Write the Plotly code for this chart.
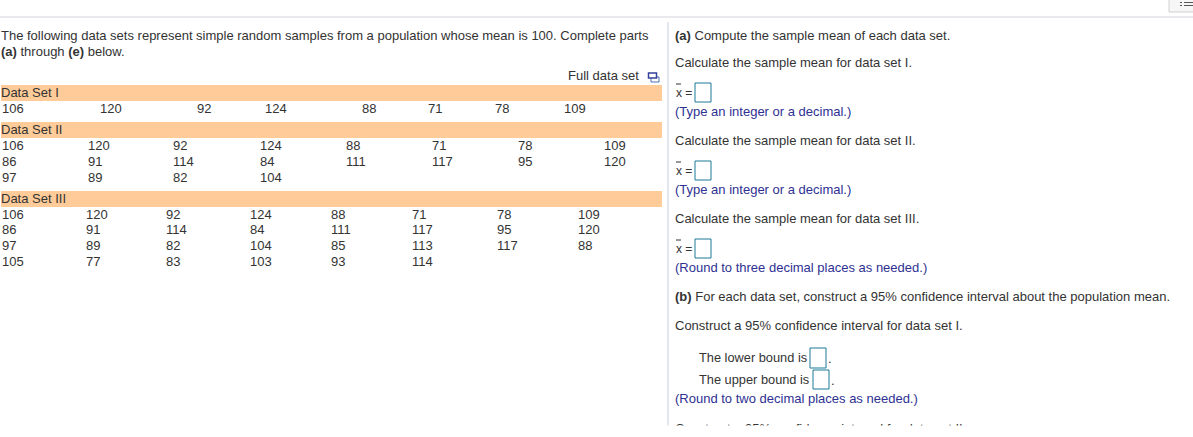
import plotly.graph_objects as go

W = 1193
H = 437
TXT = "#333333"
BLUE = "#2e3192"
TEAL = "#1b7a9a"
BAND = "#ffcc99"
FONT = "Liberation Sans, Arial, sans-serif"
FS = 13

# table values, one list per row
set1_rows = [["106", "120", "92", "124", "88", "71", "78", "109"]]
set2_rows = [
    ["106", "120", "92", "124", "88", "71", "78", "109"],
    ["86", "91", "114", "84", "111", "117", "95", "120"],
    ["97", "89", "82", "104"],
]
set3_rows = [
    ["106", "120", "92", "124", "88", "71", "78", "109"],
    ["86", "91", "114", "84", "111", "117", "95", "120"],
    ["97", "89", "82", "104", "85", "113", "117", "88"],
    ["105", "77", "83", "103", "93", "114"],
]
band_labels = ["Data Set I", "Data Set II", "Data Set III"]

# column left edges and row centres
set1_cols = [2, 100, 197, 265, 362, 428, 495, 564]
set2_cols = [2, 88, 173, 260, 346, 432, 518, 604]
set3_cols = [2, 86, 166, 250, 331, 412, 497, 578]
set1_y = [110]
set2_y = [147, 163, 179]
set3_y = [216, 231, 247, 263]
band_y = [(85, 101), (122, 138), (191, 207)]

# prose: text, x, y, colour
prose = [
    ("The following data sets represent simple random samples from a population whose mean is 100. Complete parts", 0, 35, TXT),
    ("<b>(a)</b> through <b>(e)</b> below.", 0, 51, TXT),
    ("Full data set", 567, 75, TXT),
    ("<b>(a)</b> Compute the sample mean of each data set.", 674, 35, TXT),
    ("Calculate the sample mean for data set I.", 674, 62, TXT),
    ("(Type an integer or a decimal.)", 674, 111, BLUE),
    ("Calculate the sample mean for data set II.", 674, 140, TXT),
    ("(Type an integer or a decimal.)", 674, 189, BLUE),
    ("Calculate the sample mean for data set III.", 674, 218, TXT),
    ("(Round to three decimal places as needed.)", 674, 267, BLUE),
    ("<b>(b)</b> For each data set, construct a 95% confidence interval about the population mean.", 674, 296, TXT),
    ("Construct a 95% confidence interval for data set I.", 674, 325, TXT),
    ("The lower bound is", 698, 357, TXT),
    (".", 827, 358, TXT),
    ("The upper bound is", 698, 379, TXT),
    (".", 830, 380, TXT),
    ("(Round to two decimal places as needed.)", 674, 398, BLUE),
    ("Construct a 95% confidence interval for data set II.", 674, 428, TXT),
]

# xbar equations (x position, y position of the answer row)
xbar_rows = [(674, 93), (674, 171), (674, 249)]
answer_boxes = [(695, 83, 711, 102), (695, 161, 711, 180), (695, 239, 711, 258),
                (810, 348, 826, 368), (813, 370, 829, 389)]

fig = go.Figure()

# table numbers
for rows, cols, ys in [(set1_rows, set1_cols, set1_y), (set2_rows, set2_cols, set2_y), (set3_rows, set3_cols, set3_y)]:
    for row, y in zip(rows, ys):
        fig.add_trace(go.Scatter(x=cols[:len(row)], y=[y] * len(row), text=row, mode="text",
                                 textposition="middle right", hoverinfo="skip",
                                 textfont=dict(family=FONT, size=FS, color=TXT)))

# bands
for (y0, y1), label in zip(band_y, band_labels):
    fig.add_shape(type="rect", x0=1, x1=662, y0=y0, y1=y1, fillcolor=BAND, line_width=0, layer="below")
    fig.add_annotation(x=0, y=(y0 + y1) / 2 - 0.5, xshift=-1, text=label, showarrow=False, xanchor="left",
                       yanchor="middle", font=dict(family=FONT, size=FS, color=TXT))

for text, x, y, col in prose:
    size = 12.8 if text.startswith("The ") and "bound" in text else FS
    fig.add_annotation(x=x, y=y, xshift=-1, text=text, showarrow=False, xanchor="left", yanchor="middle",
                       font=dict(family=FONT, size=size, color=col))

for x, y in xbar_rows:
    fig.add_annotation(x=x, y=y, text="x =", showarrow=False, xanchor="left", yanchor="middle",
                       font=dict(family=FONT, size=FS - 1, color=TXT))
    fig.add_shape(type="line", x0=x + 2, x1=x + 7, y0=y - 9, y1=y - 9, line=dict(color=TXT, width=1))

for x0, y0, x1, y1 in answer_boxes:
    fig.add_shape(type="rect", x0=x0, x1=x1, y0=y0, y1=y1, line=dict(color=TEAL, width=1), fillcolor="white")

# page furniture
fig.add_shape(type="line", x0=0, x1=W, y0=17, y1=17, line=dict(color="#d4d4dc", width=1))
fig.add_shape(type="line", x0=668, x1=668, y0=22, y1=426, line=dict(color="#c8cce0", width=1))
fig.add_shape(type="rect", x0=1169, x1=1198, y0=-4, y1=12, line=dict(color="#d0d0d0", width=1), fillcolor="#f6f6f6")
for y0 in [2, 5]:
    fig.add_shape(type="rect", x0=1180, x1=1182, y0=y0, y1=y0 + 1, line_width=0, fillcolor="#555555")
    fig.add_shape(type="rect", x0=1184, x1=1193, y0=y0, y1=y0 + 1, line_width=0, fillcolor="#555555")
# full data set icon
fig.add_shape(type="rect", x0=651, x1=659, y0=77, y1=82, line=dict(color="#4a6fb5", width=1), fillcolor="white")
fig.add_shape(type="rect", x0=648.5, x1=656.5, y0=73, y1=78, line=dict(color="#34409a", width=1.5), fillcolor="white")

# the screenshot is cut off under the last line
fig.add_annotation(x=0, y=425, text=" ", showarrow=False, xanchor="left", yanchor="top", width=W, height=14,
                   bgcolor="white", borderpad=0, font=dict(size=10))

fig.update_layout(width=W, height=H, margin=dict(l=0, r=0, t=0, b=0), showlegend=False,
                  plot_bgcolor="white", paper_bgcolor="white",
                  xaxis=dict(range=[0, W], visible=False, fixedrange=True),
                  yaxis=dict(range=[H, 0], visible=False, fixedrange=True))
fig.write_html("out.html", post_script="document.body.style.margin='0';", config=dict(displayModeBar=False))
